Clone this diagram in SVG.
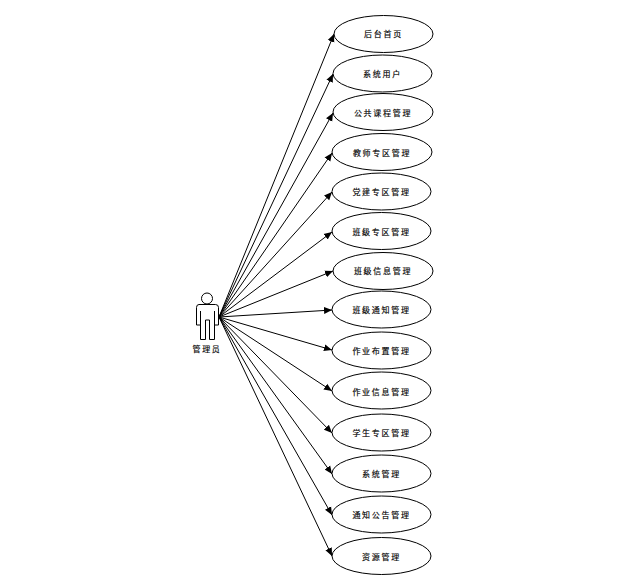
<svg xmlns="http://www.w3.org/2000/svg" width="624" height="584" viewBox="0 0 624 584">
<style>
.n ellipse{fill:#fff;stroke:#000;stroke-width:1}
text{font-family:"Noto Sans CJK SC","Liberation Sans",sans-serif;font-size:8px;letter-spacing:1.7px;text-anchor:middle;fill:#000;stroke:#000;stroke-width:.15px}
#connectors line{stroke:#000;stroke-width:1;marker-end:url(#a)}
</style>
<defs><marker id="a" markerUnits="userSpaceOnUse" markerWidth="9" markerHeight="8" refX="8" refY="4" orient="auto"><path d="M0 .5L8 4L0 7.500Z" fill="#000"/></marker></defs>
<g id="connectors">
<line x1="219" y1="317" x2="334" y2="34"/>
<line x1="219" y1="317" x2="333" y2="74"/>
<line x1="219" y1="317" x2="333" y2="113"/>
<line x1="219" y1="317" x2="332" y2="153"/>
<line x1="219" y1="317" x2="332" y2="192"/>
<line x1="219" y1="317" x2="332" y2="232"/>
<line x1="219" y1="317" x2="333" y2="271"/>
<line x1="219" y1="317" x2="332" y2="310"/>
<line x1="219" y1="317" x2="332" y2="350"/>
<line x1="219" y1="317" x2="332" y2="391"/>
<line x1="219" y1="317" x2="332" y2="433"/>
<line x1="219" y1="317" x2="332" y2="474"/>
<line x1="219" y1="317" x2="332" y2="515"/>
<line x1="219" y1="317" x2="332" y2="556"/>
</g>
<g id="actor">
<circle cx="207" cy="298.500" r="5.500" fill="#fff" stroke="#000"/>
<path d="M199 304.500H215.500Q218.500 304.500 218.500 307.500V325H214.500V339.500H209.500V320H205.500V339.500H200.500V325H196.500V307.500Q196.500 304.500 199 304.500ZM200.500 311V325M214.500 311V325" fill="#fff" stroke="#000"/>
<text x="207" y="352">管理员</text>
</g>
<g id="n1" class="n"><ellipse cx="383.500" cy="34" rx="49.500" ry="18.500"/><text x="383.500" y="37">后台首页</text></g>
<g id="n2" class="n"><ellipse cx="382.500" cy="73.500" rx="49.500" ry="18.500"/><text x="382.500" y="77">系统用户</text></g>
<g id="n3" class="n"><ellipse cx="383" cy="112" rx="50" ry="18.500"/><text x="383" y="116">公共课程管理</text></g>
<g id="n4" class="n"><ellipse cx="382" cy="152" rx="50" ry="18.500"/><text x="382" y="156">教师专区管理</text></g>
<g id="n5" class="n"><ellipse cx="381.500" cy="191.500" rx="49.500" ry="18.500"/><text x="381.500" y="195">党建专区管理</text></g>
<g id="n6" class="n"><ellipse cx="381.500" cy="231" rx="49.500" ry="18.500"/><text x="381.500" y="235">班级专区管理</text></g>
<g id="n7" class="n"><ellipse cx="383" cy="271" rx="50" ry="18.500"/><text x="383" y="274">班级信息管理</text></g>
<g id="n8" class="n"><ellipse cx="381.500" cy="309.500" rx="49.500" ry="18.500"/><text x="381.500" y="313">班级通知管理</text></g>
<g id="n9" class="n"><ellipse cx="381.500" cy="350.500" rx="49.500" ry="18.500"/><text x="381.500" y="354">作业布置管理</text></g>
<g id="n10" class="n"><ellipse cx="381.500" cy="390.500" rx="49.500" ry="18.500"/><text x="381.500" y="395">作业信息管理</text></g>
<g id="n11" class="n"><ellipse cx="381.500" cy="432.500" rx="49.500" ry="18.500"/><text x="381.500" y="436">学生专区管理</text></g>
<g id="n12" class="n"><ellipse cx="381.500" cy="473.500" rx="49.500" ry="18.500"/><text x="381.500" y="477">系统管理</text></g>
<g id="n13" class="n"><ellipse cx="381.500" cy="514.500" rx="49.500" ry="18.500"/><text x="381.500" y="518">通知公告管理</text></g>
<g id="n14" class="n"><ellipse cx="381.500" cy="556" rx="49.500" ry="18.500"/><text x="381.500" y="560">资源管理</text></g>
</svg>
